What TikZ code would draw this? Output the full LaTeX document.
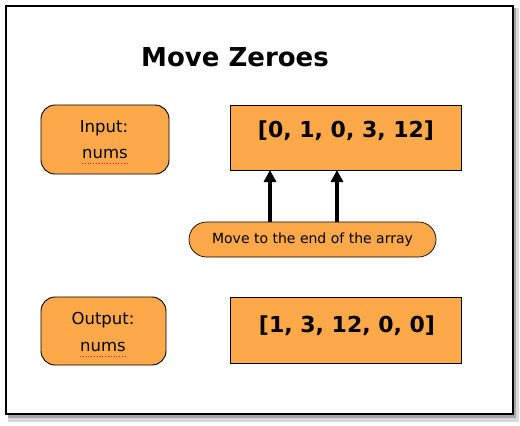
\documentclass[tikz,border=0pt]{standalone}
\usepackage{fontspec}
\setmainfont{DejaVu Sans}
\usetikzlibrary{arrows.meta,shapes.misc}
\definecolor{boxorange}{HTML}{FDA94A}
\begin{document}
\begin{tikzpicture}[x=1pt,y=-1pt,
  roundbox/.style={draw=black, fill=boxorange, rounded corners=14pt, line width=0.9pt},
  arraybox/.style={draw=black, fill=boxorange, line width=0.9pt},
  pill/.style={draw=black, fill=boxorange, rounded rectangle, line width=0.7pt, minimum width=247pt, minimum height=35pt, inner sep=0pt},
  arr/.style={-{Triangle[length=12pt,width=12pt]}, line width=3.2pt},
  lbl/.style={font=\fontsize{16.5}{18}\selectfont},
  arrtxt/.style={font=\bfseries\fontsize{22}{24}\selectfont}
]
\useasboundingbox (0,0) rectangle (520,426);
\fill[white] (0,0) rectangle (520,426);
% shadow
\fill[black!25] (9,9) rectangle (518,420);
\fill[black!15] (8,8) rectangle (519,422);
\fill[black!35] (8,8) rectangle (516,418);
\draw[line width=2.5pt, fill=white] (6,6) rectangle (513,414);
% title
\node[font=\bfseries\fontsize{26}{30}\selectfont] (title) at (235,57) {Move Zeroes};
% input
\draw[roundbox] (41,105) rectangle (169,174);
\node[lbl] (inlab) at (104,128) {Input:};
\node[lbl] (innums) at (105,154) {nums};
\draw[red, dotted, line width=0.8pt] (82,163) -- (128,163);
\draw[arraybox] (230,105) rectangle (461,170);
\node[arrtxt] (inarr) at (346,131) {[0, 1, 0, 3, 12]};
% arrows and pill
\node[pill, font=\fontsize{14}{16}\selectfont] (pill) at (312.5,239.5) {Move to the end of the array};
\coordinate (a1s) at (270,222);
\coordinate (a1e) at (270,170);
\coordinate (a2s) at (337,222);
\coordinate (a2e) at (337,170);
\draw[arr] (a1s) -- (a1e);
\draw[arr] (a2s) -- (a2e);
% output
\draw[roundbox] (41,297) rectangle (166,365);
\node[lbl] (outlab) at (103,320) {Output:};
\node[lbl] (outnums) at (103,347) {nums};
\draw[red, dotted, line width=0.8pt] (80,356) -- (126,356);
\draw[arraybox] (230,297) rectangle (461,363);
\node[arrtxt] (outarr) at (347,326) {[1, 3, 12, 0, 0]};
\end{tikzpicture}
\end{document}
